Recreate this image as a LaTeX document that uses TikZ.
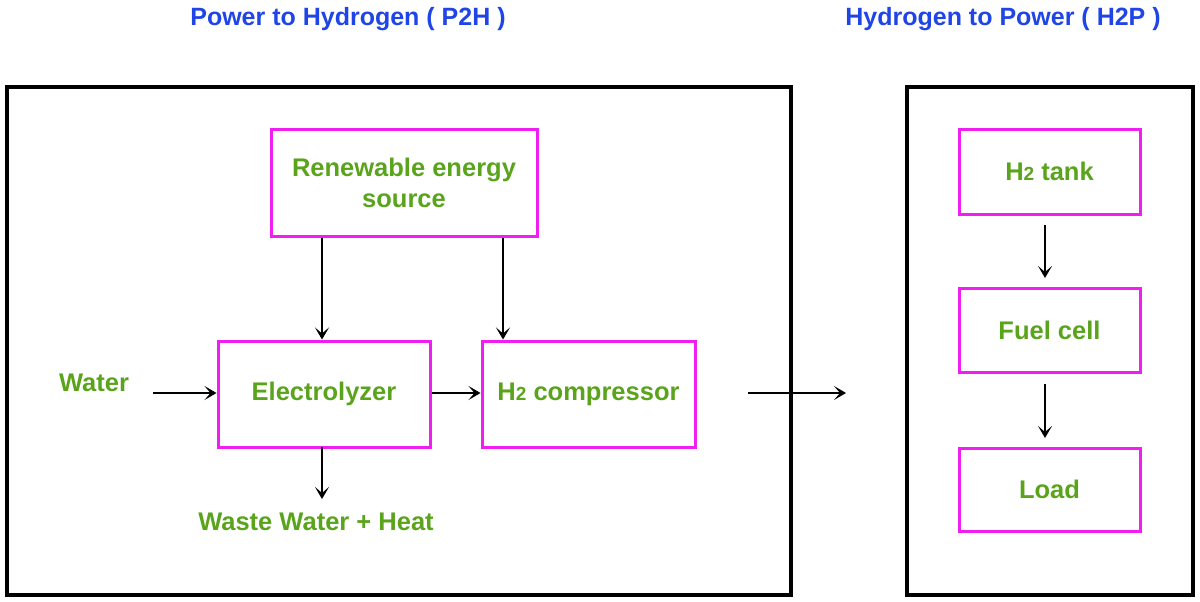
\documentclass[tikz,border=0pt]{standalone}
\usepackage{fontspec}
\setmainfont{Liberation Sans}
\usetikzlibrary{arrows.meta}
\definecolor{ttl}{HTML}{1F45E6}
\definecolor{grn}{HTML}{5AA41C}
\definecolor{mag}{HTML}{F01EF0}
\newcommand{\hsub}{{\fontsize{19}{19}\selectfont 2}}
\begin{document}
\begin{tikzpicture}[x=1pt,y=-1pt,
  outer/.style={draw=black,line width=3.3pt},
  inbox/.style={draw=mag,line width=3pt,inner sep=0pt,align=center,text=grn,font=\fontsize{25.5}{31}\selectfont\bfseries},
  lbl/.style={text=grn,font=\fontsize{25.5}{31}\selectfont\bfseries},
  ttlf/.style={text=ttl,font=\fontsize{25}{30}\selectfont\bfseries},
  arr/.style={-{Stealth[length=12pt,width=14pt,inset=6pt]},line width=1.2pt}]
\useasboundingbox (0,0) rectangle (1200,602);
\draw[outer] (7,87) rectangle (791,595);
\draw[outer] (907,87) rectangle (1193,595);
\node[ttlf] (t1) at (348,19) {Power to Hydrogen ( P2H )};
\node[ttlf] (t2) at (1003,19) {Hydrogen to Power ( H2P )};
\node[inbox,minimum width=266pt,minimum height=107pt] (ren) at (404,182.5) {Renewable energy\\source};
\node[inbox,minimum width=212pt,minimum height=106pt] (ely) at (324,394) {Electrolyzer};
\node[inbox,minimum width=213pt,minimum height=106pt] (cmp) at (588.5,394) {H\hsub\ compressor};
\node[inbox,minimum width=181pt,minimum height=85pt] (tank) at (1049.5,171.5) {H\hsub\ tank};
\node[inbox,minimum width=181pt,minimum height=84pt] (fc) at (1049.5,330) {Fuel cell};
\node[inbox,minimum width=181pt,minimum height=83pt] (load) at (1049.5,489.5) {Load};
\node[lbl] (water) at (94,383) {Water};
\node[lbl] (waste) at (316,522) {Waste Water + Heat};
\coordinate (wA) at (153,393);
\coordinate (ely1) at (322,447);
\coordinate (ely2) at (322,499);
\coordinate (outA) at (748,393);
\coordinate (outB) at (846,393);
\draw[arr] (ren.south -| 322,0) -- (ely.north -| 322,0);
\draw[arr] (ren.south -| 503,0) -- (cmp.north -| 503,0);
\draw[arr] (wA) -- (wA -| ely.west);
\draw[arr] (ely.east |- 0,393) -- (cmp.west |- 0,393);
\draw[arr] (ely1) -- (ely2);
\draw[arr] (outA) -- (outB);
\draw[arr] (1045,225) -- (1045,278);
\draw[arr] (1045,384) -- (1045,438);
\end{tikzpicture}
\end{document}
